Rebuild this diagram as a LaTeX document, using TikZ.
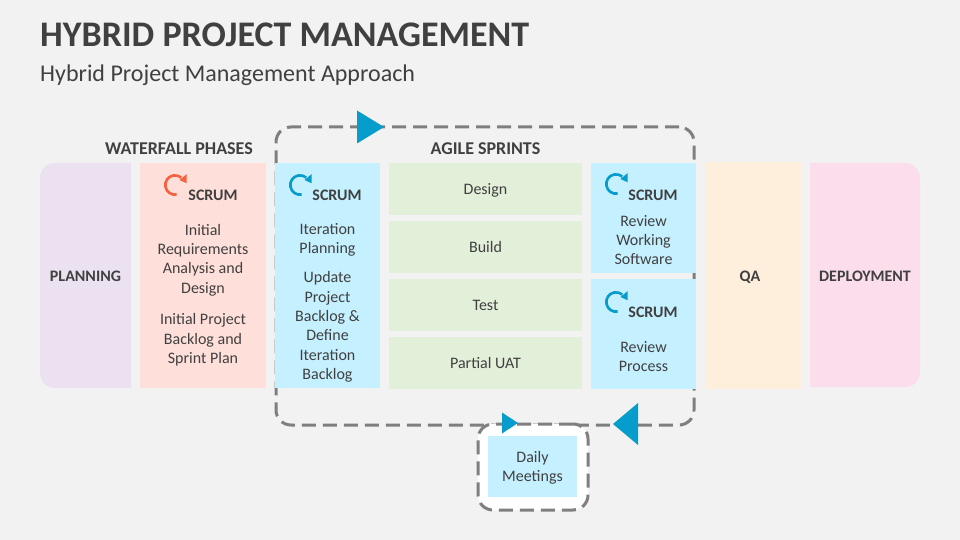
\documentclass[tikz,border=0pt]{standalone}
\usepackage{fontspec}
\setmainfont{Carlito}
\usepackage{tikz}
\usetikzlibrary{shapes.geometric, positioning}

\definecolor{slidebg}{HTML}{F2F2F2}
\definecolor{inkgray}{HTML}{404040}
\definecolor{dashgray}{HTML}{7F7F7F}
\definecolor{planlilac}{HTML}{EBE1F0}
\definecolor{scrumred}{HTML}{FFDFD9}
\definecolor{scrumblue}{HTML}{C5F0FF}
\definecolor{sprintgreen}{HTML}{E2EFD9}
\definecolor{qacream}{HTML}{FEEFDC}
\definecolor{deploypink}{HTML}{FBDDEB}
\definecolor{tipblue}{HTML}{069CCB}
\definecolor{iconred}{HTML}{F4623F}

\tikzset{
    pics/scrumicon/.style={code={
        \draw[#1, line width=2.6pt] (80:9.7) arc[start angle=80, end angle=310, radius=9.7];
        \fill[#1] (11.7,-11) -- (11.7,-1.7) -- (4.5,-5) -- cycle;
    }}
}

\begin{document}
\begin{tikzpicture}[x=1pt, y=-1pt,
        box/.style={rectangle, inner sep=0pt, outer sep=0pt, text=inkgray, align=center, font=\fontsize{16}{19.3}\selectfont},
        sprint/.style={box, fill=sprintgreen, minimum width=193pt, minimum height=52pt, text height=11pt, text depth=0pt},
        heading/.style={box, font=\fontsize{16}{19.3}\selectfont\bfseries},
        phasehead/.style={box, font=\fontsize{18}{20}\selectfont\bfseries},
        bodytext/.style={box},
        dashloop/.style={rectangle, draw=dashgray, line width=3pt, dash pattern=on 14pt off 7pt, rounded corners=15pt, inner sep=0pt},
        looptip/.style={isosceles triangle, isosceles triangle stretches, fill=tipblue, inner sep=0pt, outer sep=0pt}]
    \useasboundingbox (0,0) rectangle (960,540);
    \fill[slidebg] (0,0) rectangle (960,540);

    \node[anchor=west, inner sep=0pt, text=inkgray, font=\fontsize{36}{40}\selectfont\bfseries] (title) at (40,35) {HYBRID PROJECT MANAGEMENT};
    \node[anchor=west, inner sep=0pt, text=inkgray, font=\fontsize{24}{28}\selectfont] (subtitle) at (40,75) {Hybrid Project Management Approach};

    % the sprint loop goes first, the boxes sit on it
    \node[dashloop, minimum width=418pt, minimum height=298pt] (sprintloop) at (485,276) {};

    \fill[planlilac] (131,163) [rounded corners=15pt] -- (40,163) -- (40,388) [sharp corners] -- (131,388) -- cycle;
    \fill[deploypink] (810,163) [rounded corners=15pt] -- (920,163) -- (920,387) [sharp corners] -- (810,387) -- cycle;
    \node[heading] (planning) at (85.5,276) {PLANNING};
    \node[heading] (deployment) at (865,276) {DEPLOYMENT};

    \node[box, fill=scrumred, minimum width=126pt, minimum height=225pt] (waterfall) at (203,275.5) {};
    \node[box, fill=scrumblue, minimum width=105pt, minimum height=225pt] (iteration) [right = 9pt of waterfall] {};
    \node[sprint, anchor=north west] (design) at (389,163) {Design};
    \node[sprint] (build) [below = 6pt of design] {Build};
    \node[sprint] (test) [below = 6pt of build] {Test};
    \node[sprint] (uat) [below = 6pt of test] {Partial UAT};
    \node[box, fill=scrumblue, minimum width=105pt, minimum height=110pt, anchor=north west] (review) at (591,163) {};
    \node[box, fill=scrumblue, minimum width=105pt, minimum height=110pt] (process) [below = 6pt of review] {};
    \node[heading, fill=qacream, minimum width=96pt, minimum height=227pt, text height=11pt, text depth=0pt] (qa) at (754,275.5) {\hspace*{-8pt}QA};

    \node[phasehead] (waterfallhead) at (179,149) {WATERFALL PHASES};
    \node[phasehead] (agilehead) at (485.5,149) {AGILE SPRINTS};

    \node[heading] (scrum1) at (213,195) {SCRUM};
    \node[heading] (scrum2) at (337,195) {SCRUM};
    \node[heading] (scrum3) at (653,195) {SCRUM};
    \node[heading] (scrum4) at (653,312) {SCRUM};
    \pic (icon1) at (175,185) {scrumicon=iconred};
    \pic (icon2) at (300,185) {scrumicon=tipblue};
    \pic (icon3) at (616,184) {scrumicon=tipblue};
    \pic (icon4) at (616,302) {scrumicon=tipblue};

    \node[bodytext] (initreq) at (203,260) {Initial\\Requirements\\Analysis and\\Design};
    \node[bodytext] (initplan) at (203,340) {Initial Project\\Backlog and\\Sprint Plan};
    \node[bodytext] (iterplan) at (327.5,239.5) {Iteration\\Planning};
    \node[bodytext] (update) at (327.5,327) {Update\\Project\\Backlog \&\\Define\\Iteration\\Backlog};
    \node[bodytext] (revsoft) at (643.5,240) {Review\\Working\\Software};
    \node[bodytext] (revproc) at (643.5,356.5) {Review\\Process};

    % daily meetings
    \node[dashloop, fill=white, minimum width=110pt, minimum height=86pt] (dailyloop) at (533,467) {};
    \node[box, fill=scrumblue, minimum width=89pt, minimum height=61pt] (daily) at (532.5,466.5) {};
    \node[bodytext] (dailytext) at (532.5,467.5) {Daily\\Meetings};

    \node[looptip, minimum height=27pt, minimum width=33pt, anchor=apex] (tiptop) at (384,127) {};
    \node[looptip, minimum height=16pt, minimum width=21pt, anchor=apex] (tipdaily) at (518,423) {};
    \node[looptip, minimum height=25pt, minimum width=42pt, shape border rotate=180, anchor=apex] (tipback) at (613,424) {};
\end{tikzpicture}
\end{document}
